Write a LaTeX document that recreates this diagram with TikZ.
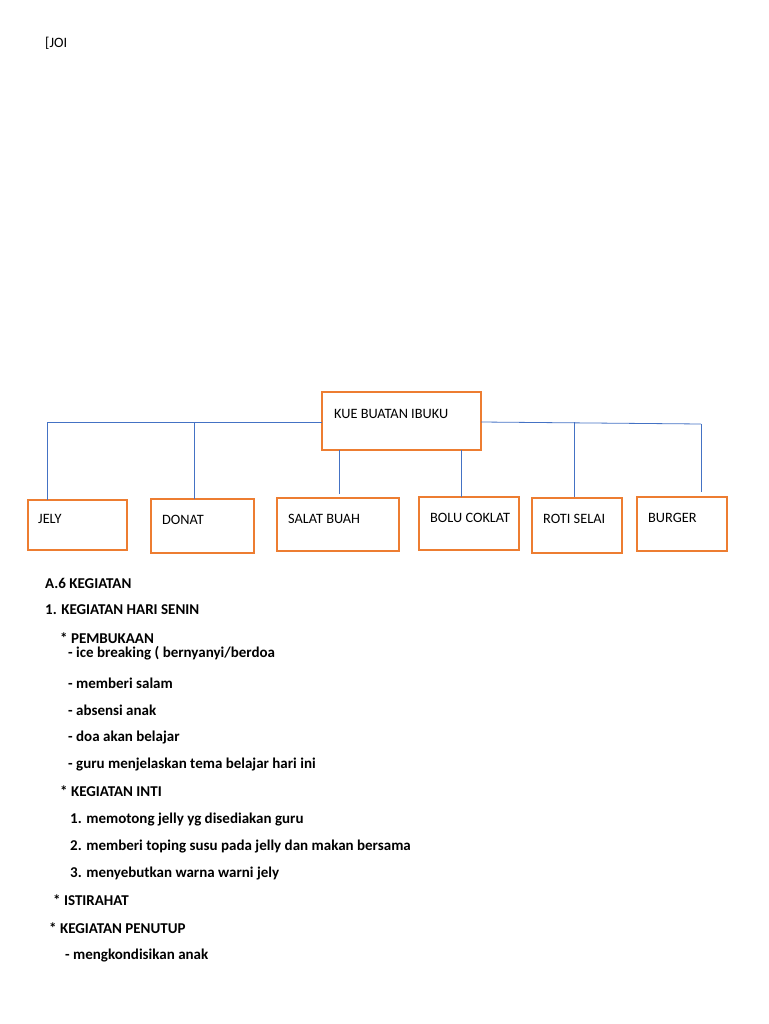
\documentclass[tikz,border=0pt]{standalone}
\usepackage{fontspec}
\setmainfont{Carlito}
\begin{document}
\begin{tikzpicture}[x=1pt,y=-1pt,
  box/.style={draw={rgb,255:red,237;green,125;blue,49},line width=1.6pt},
  lab/.style={anchor=west,inner sep=0pt,font=\fontsize{14.3}{15}\selectfont},
  txt/.style={anchor=west,inner sep=0pt,font=\fontsize{15}{16}\selectfont\bfseries},
  con/.style={draw={rgb,255:red,68;green,114;blue,196},line width=0.8pt}]
\useasboundingbox (0,0) rectangle (768,1024);
\node[lab] (joi) at (45,43) {[JOI};
\draw[box] (322,392) rectangle (481,450);
\coordinate (kl) at (322,422); \coordinate (kr) at (481,422);
\node[lab] (kue) at (334,414) {KUE BUATAN IBUKU};
\draw[box] (28,500) rectangle (127,550);   \node[lab] (a) at (38,519) {JELY};
\draw[box] (151,499) rectangle (254,553);  \node[lab] (b) at (162,520) {DONAT};
\draw[box] (277,498) rectangle (399,551);  \node[lab] (c) at (288,519) {SALAT BUAH};
\draw[box] (419,497) rectangle (519,550);  \node[lab] (d) at (430,518) {BOLU COKLAT};
\draw[box] (532,498) rectangle (622,553);  \node[lab] (e) at (543,519) {ROTI SELAI};
\draw[box] (637,497) rectangle (727,551);  \node[lab] (f) at (648,518) {BURGER};
\coordinate (h1) at (47,422); \coordinate (h2) at (701,424);
\draw[con] (h1) -- (kl); \draw[con] (kr) -- (h2);
\draw[con] (47,422) -- (47,500);
\draw[con] (194,422) -- (194,499);
\draw[con] (339,450) -- (339,494);
\draw[con] (461,450) -- (461,497);
\draw[con] (574,422) -- (574,497);
\draw[con] (701,424) -- (701,492);
\node[txt] (t1) at (45,583) {A.6 KEGIATAN};
\node[txt] (t2) at (45,610) {1. KEGIATAN HARI SENIN};
\node[txt] (t3) at (60,638) {* PEMBUKAAN};
\node[txt] (t4) at (68,653) {- ice breaking ( bernyanyi/berdoa};
\node[txt] (t5) at (68,683) {- memberi salam};
\node[txt] (t6) at (68,710) {- absensi anak};
\node[txt] (t7) at (68,737) {- doa akan belajar};
\node[txt] (t8) at (68,764) {- guru menjelaskan tema belajar hari ini};
\node[txt] (t9) at (60,791) {* KEGIATAN INTI};
\node[txt] (t10) at (70,819) {1. memotong jelly yg disediakan guru};
\node[txt] (t11) at (70,846) {2. memberi toping susu pada jelly dan makan bersama};
\node[txt] (t12) at (70,873) {3. menyebutkan warna warni jely};
\node[txt] (t13) at (53,900) {* ISTIRAHAT};
\node[txt] (t14) at (49,928) {* KEGIATAN PENUTUP};
\node[txt] (t15) at (65,955) {- mengkondisikan anak};
\end{tikzpicture}
\end{document}
